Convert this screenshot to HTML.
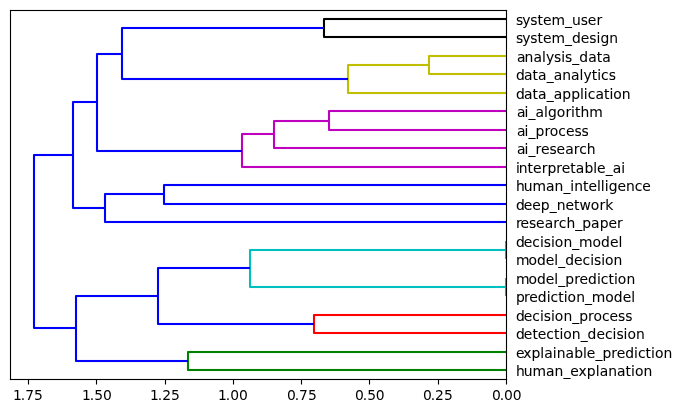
<!DOCTYPE html>
<html lang="en"><head><meta charset="utf-8"><title>Dendrogram</title>
<style>html,body{margin:0;padding:0;background:#fff}svg{display:block}</style></head>
<body>
<svg width="683" height="413" viewBox="0 0 683 413">
<rect width="683" height="413" fill="#fff"/>
<g fill="none" stroke-width="2.083" stroke-linejoin="round" stroke-linecap="butt">
<rect x="324" y="17.9585" width="182" height="2.083" fill="#000000"/>
<rect x="324" y="35.9585" width="182" height="2.083" fill="#000000"/>
<path d="M324 19V37" stroke="#000000" stroke-linecap="round"/>
<rect x="429" y="54.9585" width="77" height="2.083" fill="#bfbf00"/>
<rect x="429" y="72.9585" width="77" height="2.083" fill="#bfbf00"/>
<path d="M429 56V74" stroke="#bfbf00" stroke-linecap="round"/>
<rect x="348" y="63.9585" width="81" height="2.083" fill="#bfbf00"/>
<rect x="348" y="91.9585" width="158" height="2.083" fill="#bfbf00"/>
<path d="M348 65V93" stroke="#bfbf00" stroke-linecap="round"/>
<rect x="329" y="109.959" width="177" height="2.083" fill="#bf00bf"/>
<rect x="329" y="128.958" width="177" height="2.083" fill="#bf00bf"/>
<path d="M329 111V130" stroke="#bf00bf" stroke-linecap="round"/>
<rect x="274" y="119.959" width="55" height="2.083" fill="#bf00bf"/>
<rect x="274" y="146.958" width="232" height="2.083" fill="#bf00bf"/>
<path d="M274 121V148" stroke="#bf00bf" stroke-linecap="round"/>
<rect x="242" y="132.958" width="32" height="2.083" fill="#bf00bf"/>
<rect x="242" y="165.958" width="264" height="2.083" fill="#bf00bf"/>
<path d="M242 134V167" stroke="#bf00bf" stroke-linecap="round"/>
<rect x="504.9585" y="241" width="1.0415" height="18" fill="#00bfbf"/>
<rect x="504.9585" y="278" width="1.0415" height="18" fill="#00bfbf"/>
<rect x="250" y="248.958" width="256" height="2.083" fill="#00bfbf"/>
<rect x="250" y="285.959" width="256" height="2.083" fill="#00bfbf"/>
<path d="M250 250V287" stroke="#00bfbf" stroke-linecap="round"/>
<rect x="314" y="313.959" width="192" height="2.083" fill="#ff0000"/>
<rect x="314" y="331.959" width="192" height="2.083" fill="#ff0000"/>
<path d="M314 315V333" stroke="#ff0000" stroke-linecap="round"/>
<rect x="188" y="350.959" width="318" height="2.083" fill="#008000"/>
<rect x="188" y="368.959" width="318" height="2.083" fill="#008000"/>
<path d="M188 352V370" stroke="#008000" stroke-linecap="round"/>
<rect x="122" y="26.9585" width="202" height="2.083" fill="#0000ff"/>
<rect x="122" y="77.9585" width="226" height="2.083" fill="#0000ff"/>
<path d="M122 28V79" stroke="#0000ff" stroke-linecap="round"/>
<rect x="97" y="52.9585" width="25" height="2.083" fill="#0000ff"/>
<rect x="97" y="149.958" width="145" height="2.083" fill="#0000ff"/>
<path d="M97 54V151" stroke="#0000ff" stroke-linecap="round"/>
<rect x="164" y="183.958" width="342" height="2.083" fill="#0000ff"/>
<rect x="164" y="202.958" width="342" height="2.083" fill="#0000ff"/>
<path d="M164 185V204" stroke="#0000ff" stroke-linecap="round"/>
<rect x="105" y="192.958" width="59" height="2.083" fill="#0000ff"/>
<rect x="105" y="220.958" width="401" height="2.083" fill="#0000ff"/>
<path d="M105 194V222" stroke="#0000ff" stroke-linecap="round"/>
<rect x="73" y="100.959" width="24" height="2.083" fill="#0000ff"/>
<rect x="73" y="206.958" width="32" height="2.083" fill="#0000ff"/>
<path d="M73 102V208" stroke="#0000ff" stroke-linecap="round"/>
<rect x="158" y="266.959" width="92" height="2.083" fill="#0000ff"/>
<rect x="158" y="322.959" width="156" height="2.083" fill="#0000ff"/>
<path d="M158 268V324" stroke="#0000ff" stroke-linecap="round"/>
<rect x="76" y="294.959" width="82" height="2.083" fill="#0000ff"/>
<rect x="76" y="359.959" width="112" height="2.083" fill="#0000ff"/>
<path d="M76 296V361" stroke="#0000ff" stroke-linecap="round"/>
<rect x="34" y="153.958" width="39" height="2.083" fill="#0000ff"/>
<rect x="34" y="326.959" width="42" height="2.083" fill="#0000ff"/>
<path d="M34 155V328" stroke="#0000ff" stroke-linecap="round"/>
</g>
<g fill="#000">
<rect x="27.9445" y="380" width="1.111" height="4.5"/>
<rect x="95.9445" y="380" width="1.111" height="4.5"/>
<rect x="164.945" y="380" width="1.111" height="4.5"/>
<rect x="232.945" y="380" width="1.111" height="4.5"/>
<rect x="300.945" y="380" width="1.111" height="4.5"/>
<rect x="368.945" y="380" width="1.111" height="4.5"/>
<rect x="437.945" y="380" width="1.111" height="4.5"/>
<rect x="505.945" y="380" width="1.111" height="4.5"/>
<rect x="9.9445" y="9.9445" width="497.111" height="1.111"/>
<rect x="9.9445" y="378.9445" width="497.111" height="1.111"/>
<rect x="9.9445" y="9.9445" width="1.111" height="370.111"/>
<rect x="505.9445" y="9.9445" width="1.111" height="370.111"/>
</g>
<g class="t l" font-family="'DejaVu Sans', 'Liberation Sans', sans-serif" font-size="13.889px" fill="#000" stroke="#000" stroke-width="0">
<text x="515.88 522.23 530.19 537.42 542.98 551.4 564.91 571.97 580.64 587.75 596.41" y="25" stroke-width="0.05">system_user</text>
<text x="515.88 522.23 530.19 537.42 542.98 551.4 564.91 571.97 580.66 589.19 596.42 600.4 609.21" y="43" stroke-width="0.045">system_design</text>
<text x="516.88 524.38 533.42 541.92 545.9 553.99 561.22 564.95 572.18 579.24 588.17 596.67 602.24" y="62" stroke-width="0.065">analysis_data</text>
<text x="515.88 523.93 532.43 537.88 546.63 553.69 562.19 570.99 579.49 583.47 591.68 597.25 600.98 608.73" y="80" stroke-width="0.06">data_analytics</text>
<text x="515.88 523.93 532.43 537.88 546.63 553.69 562.19 571.25 579.93 583.66 587.64 595.4 603.9 609.46 613.19 621.68" y="99" stroke-width="0.065">data_application</text>
<text x="516.88 524.38 528.48 535.42 543.92 547.9 556.71 565.45 570.9 574.88 580.45 589.24" y="117" stroke-width="0.06">ai_algorithm</text>
<text x="516.88 524.38 528.48 535.42 544.48 549.68 558.17 565.92 574.46 581.44" y="136" stroke-width="0.04">ai_process</text>
<text x="516.88 524.38 528.48 535.42 541 549.41 556.39 565.18 573.68 579.13 586.76" y="154" stroke-width="0.06">ai_research</text>
<text x="515.88 518.73 527.52 532.96 541.63 547.45 556.14 561.72 570.13 575.69 584.45 593.13 596.98 605.64 612.71 621.21" y="173" stroke-width="0.07">interpretable_ai</text>
<text x="515.88 523.67 532.46 545.98 554.48 563.4 570.21 574.19 582.99 588.43 596.96 600.69 604.67 608.65 617.46 626 634.67 642.17" y="191" stroke-width="0.075">human_intelligence</text>
<text x="515.88 523.68 532.22 540.76 549.69 556.75 565.42 573.96 579.4 590.74 599.48 605.19" y="210" stroke-width="0.075">deep_network</text>
<text x="515.88 520.45 528.99 535.97 544.63 553.13 558.71 566.47 575.14 582.2 590.88 599.63 608.44 616.98" y="228" stroke-width="0.065">research_paper</text>
<text x="515.88 523.68 532.22 539.97 543.7 550.93 554.66 563.4 572.19 578.88 592.4 600.89 609.94 618.48" y="247" stroke-width="0.05">decision_model</text>
<text x="515.88 528.39 536.88 545.69 554.22 558.2 565.14 573.95 582.48 590.24 593.97 601.2 604.93 613.42" y="265" stroke-width="0.055">model_decision</text>
<text x="515.88 528.39 536.88 545.69 554.22 558.2 565.14 574.2 579.4 587.94 597 600.85 608.48 613.92 617.65 626.39" y="284" stroke-width="0.06">model_prediction</text>
<text x="515.88 523.93 529.14 537.67 546.73 550.46 558.21 563.65 567.38 576.25 584.92 591.73 605.25 613.73 622.67 631.2" y="302" stroke-width="0.065">prediction_model</text>
<text x="515.88 523.68 532.22 539.97 543.7 550.93 554.66 563.4 572.19 579.13 587.94 593.39 601.88 609.39 617.92 625.15" y="321" stroke-width="0.04">decision_process</text>
<text x="515.88 523.68 532.47 537.66 546.2 553.95 559.39 563.24 571.73 580.65 587.46 596.4 604.93 612.44 616.42 623.4 627.38 635.99" y="339" stroke-width="0.05">detection_decision</text>
<text x="515.88 523.16 531.5 540.18 544.16 552.66 556.64 565.44 574.19 583 586.73 595.39 602.45 611.13 616.71 625.25 633.93 637.91 645.54 650.98 654.96 663.45" y="358" stroke-width="0.06">explainable_prediction</text>
<text x="515.88 523.67 532.46 545.98 554.48 563.4 570.21 578.5 586.83 595.64 599.75 608.25 616.92 625.55 630.99 634.97 643.46" y="376" stroke-width="0.065">human_explanation</text>
</g>
<g class="t" font-family="'DejaVu Sans', 'Liberation Sans', sans-serif" font-size="13.889px" fill="#000">
<text x="12.93 20.64 25.17 34" y="400">1.75</text>
<text x="81.97 89.67 94.21 102.91" y="400">1.50</text>
<text x="149.88 157.71 162.24 170.94" y="400">1.25</text>
<text x="217.91 225.74 230.15 238.98" y="400">1.00</text>
<text x="286.95 294.65 298.94 307.89" y="400">0.75</text>
<text x="354.98 362.69 367.22 375.67" y="400">0.50</text>
<text x="422.89 430.72 434.88 443.96" y="400">0.25</text>
<text x="491.93 499.63 503.92 512.74" y="400">0.00</text>
</g>
</svg>
</body></html>
